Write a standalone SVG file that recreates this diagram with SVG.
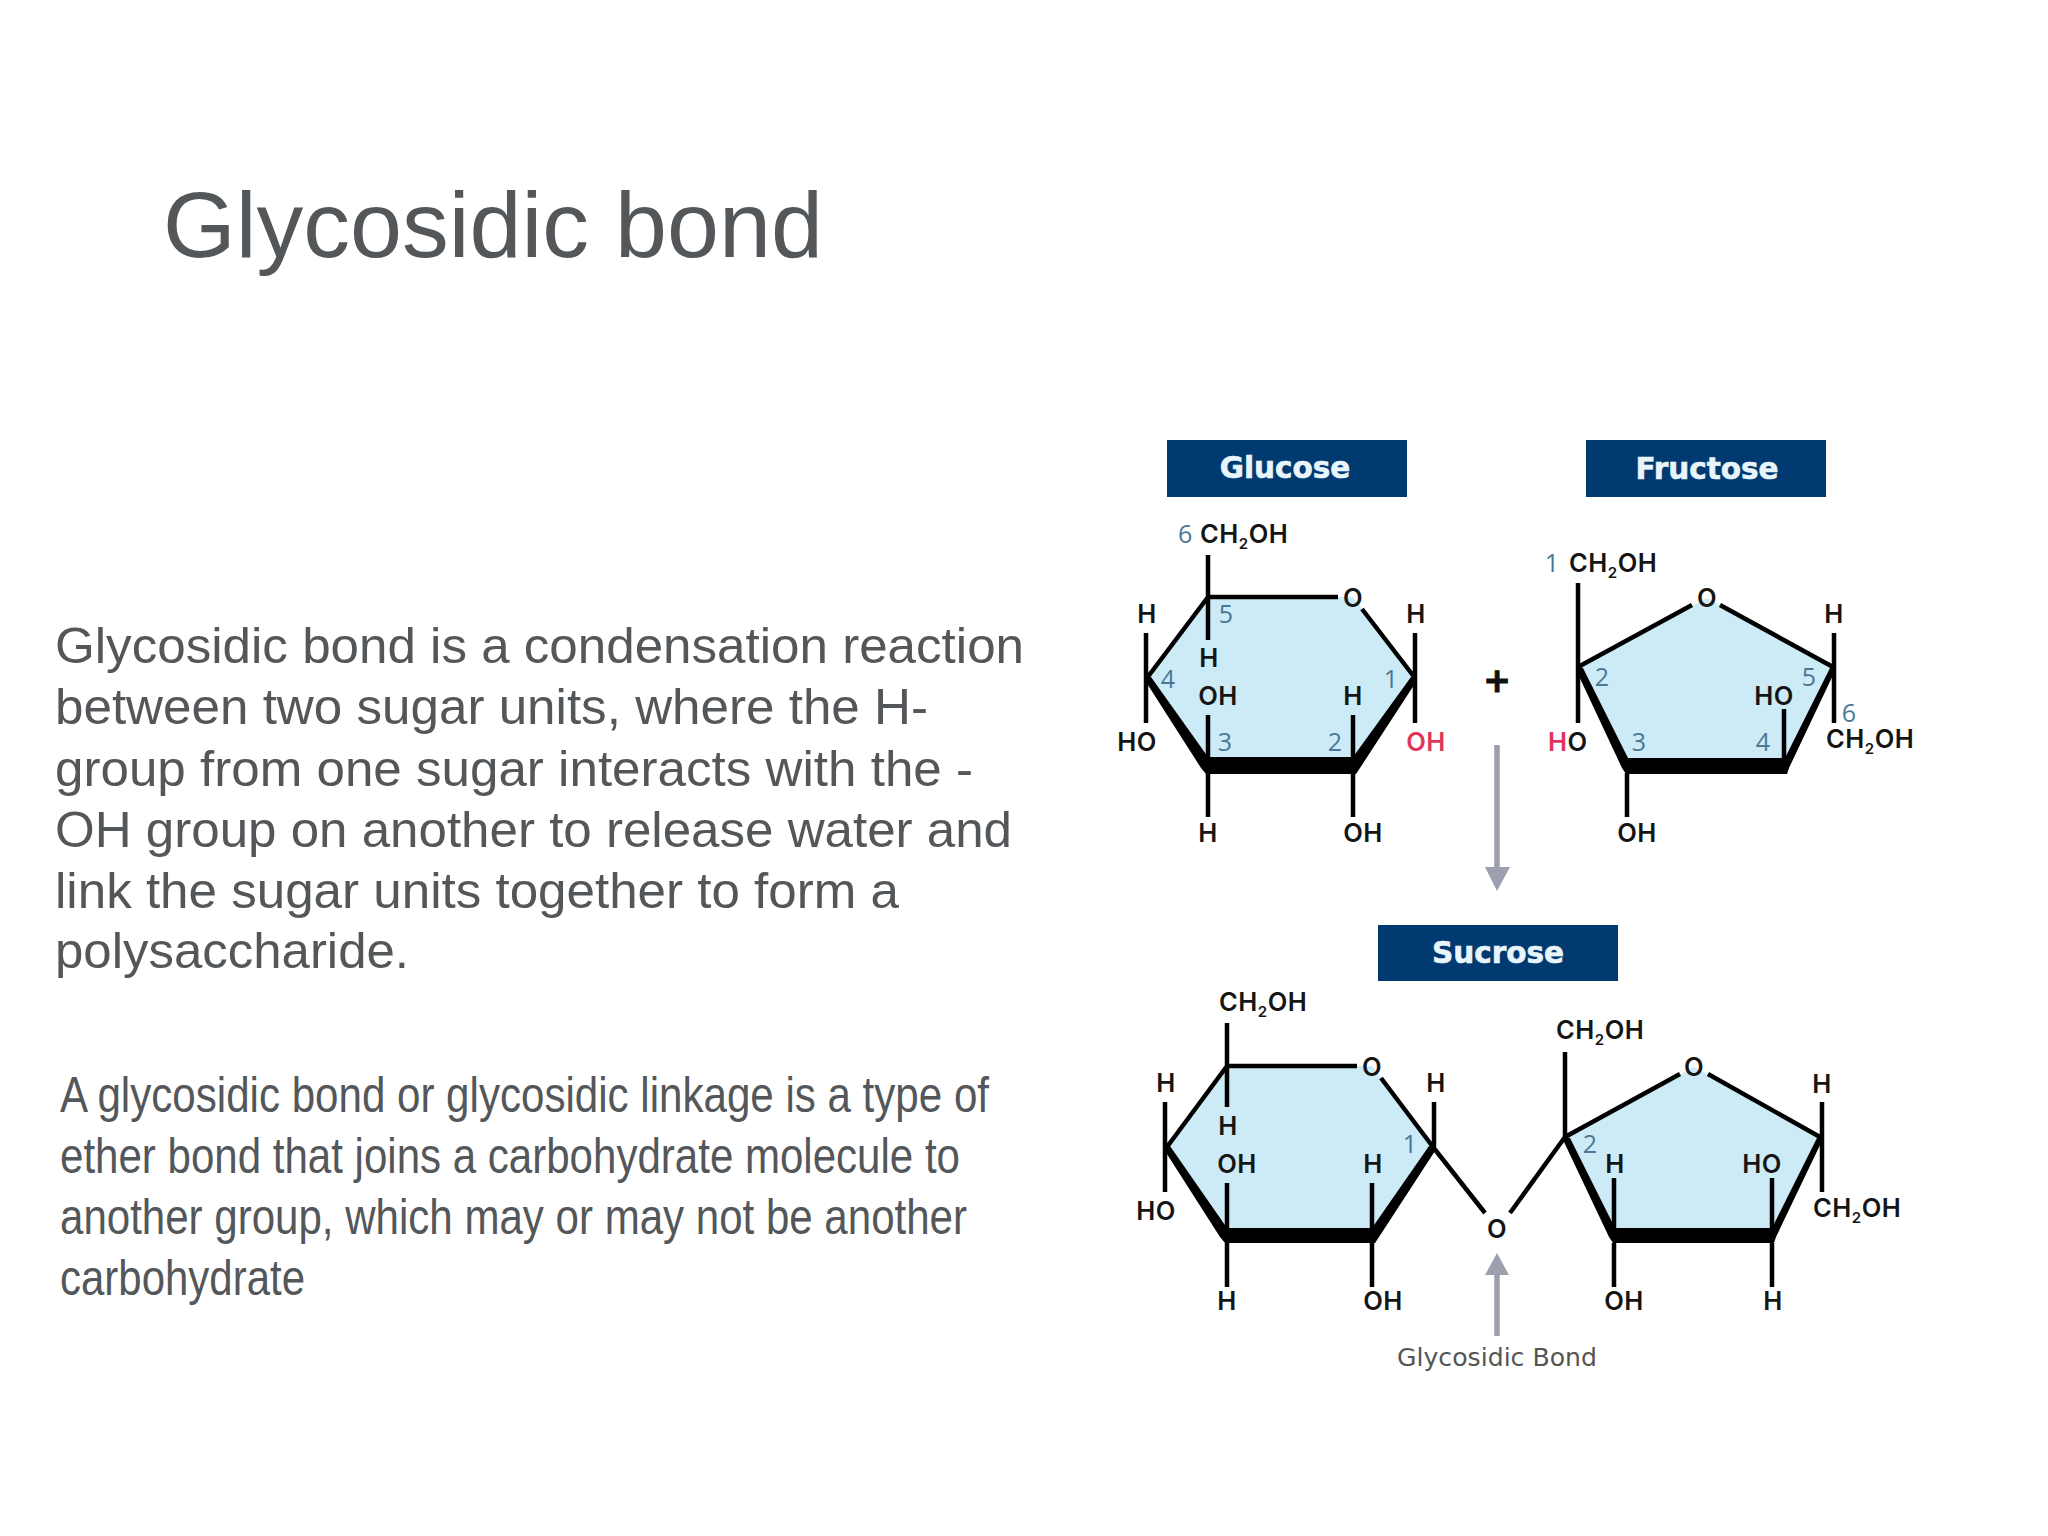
<svg xmlns="http://www.w3.org/2000/svg" width="2048" height="1536" viewBox="0 0 2048 1536">
<style>
text{font-family:"Liberation Sans",Arial,sans-serif}
.t{fill:#54575a}
.title{font-size:93px}
.b{font-size:50.5px}
.hd{font-family:"DejaVu Sans",sans-serif;font-size:29.5px;font-weight:700;fill:#e8f5fb;stroke:#e8f5fb;stroke-width:.6;text-anchor:middle}
.box{fill:#003a70}
.ring{fill:#cdebf7}
.l{font-family:Inter,"Liberation Sans",sans-serif;font-size:25.5px;font-weight:600;letter-spacing:.5px;fill:#151515;text-anchor:middle}
.sub{font-size:15px}
.n{font-family:"Open Sans","Liberation Sans",sans-serif;font-size:25px;fill:#4a7797;text-anchor:middle}
.s{text-anchor:start}
.r{fill:#e0355a}
.bond{stroke:#000;stroke-width:4.5;fill:none;stroke-linecap:butt}
.wedge{fill:#000}
.arr{stroke:#9b9fae;stroke-width:5.5;fill:none}
.head{fill:#9b9fae}
</style>
<rect width="2048" height="1536" fill="#fff"/>
<g id="title"><text class="t title" x="163" y="257" textLength="660" lengthAdjust="spacingAndGlyphs">Glycosidic bond</text></g>
<g id="body-1" class="t">
<text class="b" x="55" y="663" textLength="969" lengthAdjust="spacingAndGlyphs">Glycosidic bond is a condensation reaction</text>
<text class="b" x="55" y="724" textLength="873" lengthAdjust="spacingAndGlyphs">between two sugar units, where the H-</text>
<text class="b" x="55" y="786" textLength="918" lengthAdjust="spacingAndGlyphs">group from one sugar interacts with the -</text>
<text class="b" x="55" y="847" textLength="957" lengthAdjust="spacingAndGlyphs">OH group on another to release water and</text>
<text class="b" x="55" y="908" textLength="844" lengthAdjust="spacingAndGlyphs">link the sugar units together to form a</text>
<text class="b" x="55" y="968" textLength="354" lengthAdjust="spacingAndGlyphs">polysaccharide.</text>
</g>
<g id="body-2" class="t">
<text class="b" x="60" y="1112" textLength="929" lengthAdjust="spacingAndGlyphs">A glycosidic bond or glycosidic linkage is a type of</text>
<text class="b" x="60" y="1173" textLength="900" lengthAdjust="spacingAndGlyphs">ether bond that joins a carbohydrate molecule to</text>
<text class="b" x="60" y="1234" textLength="907" lengthAdjust="spacingAndGlyphs">another group, which may or may not be another</text>
<text class="b" x="60" y="1295" textLength="245" lengthAdjust="spacingAndGlyphs">carbohydrate</text>
</g>
<g id="glucose">
<rect class="box" x="1167" y="440" width="240" height="57"/>
<text class="hd" x="1285" y="478">Glucose</text>
<polygon class="ring" points="1208,597 1353,597 1415,678 1353,767 1208,767 1147,678"/>
<path class="bond" d="M1208,597H1338M1362,609L1415,678M1147,678L1208,597M1208,555V640M1146,633V723M1415,633V723M1208,715V760M1208,773V817M1353,715V760M1353,773V817"/>
<polygon class="wedge" points="1146,677 1151,677 1208,757 1353,757 1411,677 1416,677 1416,682 1360,768 1356,774 1206,774 1201,768 1146,682"/>
<text class="n s" x="1178" y="543">6</text>
<text class="l s" x="1200" y="543">CH<tspan class="sub" dy="6">2</tspan><tspan dy="-6">OH</tspan></text>
<text class="l" x="1353" y="607">O</text>
<text class="l" x="1147" y="623">H</text><text class="l" x="1416" y="623">H</text>
<text class="n" x="1226" y="623">5</text>
<text class="l" x="1209" y="667">H</text>
<text class="n" x="1168" y="688">4</text><text class="n" x="1391" y="688">1</text>
<text class="l" x="1218" y="705">OH</text><text class="l" x="1353" y="705">H</text>
<text class="l" x="1137" y="751">HO</text>
<text class="n" x="1225" y="751">3</text><text class="n" x="1335" y="751">2</text>
<text class="l r" x="1426" y="751">OH</text>
<text class="l" x="1208" y="842">H</text><text class="l" x="1363" y="842">OH</text>
</g>
<g id="plus"><text x="1497" y="692" font-size="33" font-weight="700" text-anchor="middle" stroke="#111" stroke-width="1" style="font-family:'DejaVu Sans',sans-serif" fill="#111">+</text></g>
<g id="fructose">
<rect class="box" x="1586" y="440" width="240" height="57"/>
<text class="hd" x="1707" y="479">Fructose</text>
<polygon class="ring" points="1578,667 1707,598 1833,667 1785,767 1627,767"/>
<path class="bond" d="M1578,667L1692,605M1720,605L1833,667M1578,583V723M1627,773V817M1784,709V760M1834,633V723"/>
<polygon class="wedge" points="1577,666 1583,668 1628,758 1785,758 1830,668 1834,666 1834,673 1789,768 1787,774 1626,774 1622,768 1577,672"/>
<text class="n" x="1552" y="572">1</text>
<text class="l s" x="1569" y="572">CH<tspan class="sub" dy="6">2</tspan><tspan dy="-6">OH</tspan></text>
<text class="l" x="1707" y="607">O</text>
<text class="l" x="1834" y="623">H</text>
<text class="n" x="1602" y="686">2</text><text class="n" x="1809" y="686">5</text>
<text class="l" x="1774" y="705">HO</text>
<text class="n" x="1849" y="722">6</text>
<text class="l s" x="1826" y="748">CH<tspan class="sub" dy="6">2</tspan><tspan dy="-6">OH</tspan></text>
<text class="l s" x="1548" y="751"><tspan class="r">H</tspan>O</text>
<text class="n" x="1639" y="751">3</text><text class="n" x="1763" y="751">4</text>
<text class="l" x="1637" y="842">OH</text>
</g>
<g id="sucrose">
<rect class="box" x="1378" y="925" width="240" height="56"/>
<text class="hd" x="1498" y="963">Sucrose</text>
<polygon class="ring" points="1227,1066 1372,1066 1433,1147 1372,1237 1227,1237 1167,1147"/>
<polygon class="ring" points="1565,1137 1694,1067 1820,1137 1772,1237 1613,1237"/>
<path class="bond" d="M1227,1066H1357M1381,1078L1433,1147M1167,1147L1227,1066M1227,1023V1107M1165,1102V1192M1434,1102V1147M1227,1183V1230M1227,1243V1287M1372,1183V1230M1372,1243V1287"/>
<path class="bond" d="M1433,1147L1485,1213M1510,1213L1565,1137M1565,1137L1680,1074M1708,1074L1820,1137M1565,1052V1137M1822,1102V1192M1614,1178V1230M1614,1243V1287M1772,1178V1230M1772,1243V1287"/>
<polygon class="wedge" points="1165,1146 1170,1146 1227,1228 1372,1228 1429,1146 1435,1146 1435,1151 1379,1237 1375,1243 1225,1243 1220,1237 1165,1151"/>
<polygon class="wedge" points="1564,1136 1570,1138 1615,1228 1772,1228 1817,1138 1821,1136 1821,1143 1776,1237 1774,1243 1613,1243 1609,1237 1564,1142"/>
<text class="l s" x="1219" y="1011">CH<tspan class="sub" dy="6">2</tspan><tspan dy="-6">OH</tspan></text>
<text class="l" x="1372" y="1076">O</text>
<text class="l" x="1166" y="1092">H</text><text class="l" x="1436" y="1092">H</text>
<text class="l" x="1228" y="1135">H</text>
<text class="n" x="1410" y="1153">1</text>
<text class="l" x="1237" y="1173">OH</text><text class="l" x="1373" y="1173">H</text>
<text class="l" x="1156" y="1220">HO</text>
<text class="l" x="1227" y="1310">H</text><text class="l" x="1383" y="1310">OH</text>
<text class="l" x="1497" y="1238">O</text>
<text class="l s" x="1556" y="1039">CH<tspan class="sub" dy="6">2</tspan><tspan dy="-6">OH</tspan></text>
<text class="l" x="1694" y="1076">O</text>
<text class="l" x="1822" y="1093">H</text>
<text class="n" x="1590" y="1153">2</text>
<text class="l" x="1615" y="1173">H</text><text class="l" x="1762" y="1173">HO</text>
<text class="l s" x="1813" y="1217">CH<tspan class="sub" dy="6">2</tspan><tspan dy="-6">OH</tspan></text>
<text class="l" x="1624" y="1310">OH</text><text class="l" x="1773" y="1310">H</text>
</g>
<g id="connectors">
<path class="arr" d="M1497,745V868"/><polygon class="head" points="1485,867 1510,867 1497,891"/>
<path class="arr" d="M1497,1336V1274"/><polygon class="head" points="1485,1275 1509,1275 1497,1253"/>
</g>
<g id="bond-label"><text x="1397" y="1366" font-size="25" fill="#555" textLength="200" lengthAdjust="spacingAndGlyphs" style="font-family:'DejaVu Sans',sans-serif">Glycosidic Bond</text></g>
</svg>
